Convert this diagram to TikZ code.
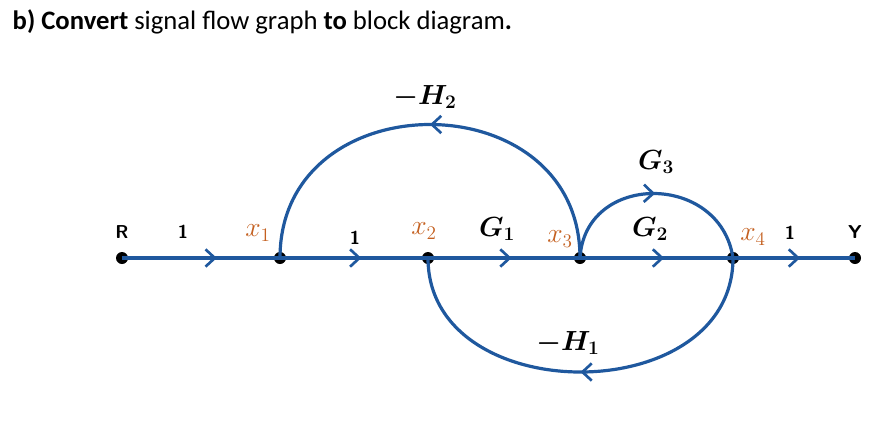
\documentclass[tikz,border=0pt]{standalone}
\usepackage{bm}
\usepackage{fontspec}
\setmainfont{Carlito}
\usetikzlibrary{decorations.markings,arrows.meta}
\definecolor{sfg}{RGB}{31,88,158}
\definecolor{lab}{RGB}{196,96,32}
\tikzset{
 br/.style={sfg,line width=2.4pt},
 mid/.style={postaction={decorate},decoration={markings,mark=at position #1 with {\arrow[sfg,line width=2pt]{Straight Barb[length=7pt,width=13pt]}}}},
 dot/.style={circle,fill=black,inner sep=0pt,minimum size=9pt},
 gl/.style={font=\fontsize{20}{20}\selectfont},
 xl/.style={lab,font=\fontsize{20}{20}\selectfont},
 nl/.style={font=\fontsize{14}{14}\selectfont\bfseries\sffamily}
}
\begin{document}
\begin{tikzpicture}[x=0.75pt,y=-0.75pt]
\useasboundingbox (0,0) rectangle (891,429);
\node[anchor=west,font=\fontsize{20}{20}\selectfont] (t) at (8,22) {\textbf{b) Convert} signal flow graph \textbf{to} block diagram\textbf{.}};
\node[dot] (R) at (122,258) {};
\node[dot] (x1) at (280,258) {};
\node[dot] (x2) at (428,258) {};
\node[dot] (x3) at (580,258) {};
\node[dot] (x4) at (733,258) {};
\node[dot] (Y) at (855,258) {};
\draw[br,mid=0.6] (R.center) -- (x1.center);
\draw[br,mid=0.55] (x1.center) -- (x2.center);
\draw[br,mid=0.55] (x2.center) -- (x3.center);
\draw[br,mid=0.55] (x3.center) -- (x4.center);
\draw[br,mid=0.55] (x4.center) -- (Y.center);
\draw[br,mid=0.5] (x3.center) .. controls (580,80) and (280,80) .. (x1.center);
\draw[br,mid=0.5] (x4.center) .. controls (733,410) and (428,410) .. (x2.center);
\draw[br,mid=0.5] (x3.center) .. controls (585,172) and (720,172) .. (x4.center);
\node[gl] (h2) at (425,97) {$\bm{-H_2}$};
\node[gl] (g3) at (656,162) {$\bm{G_3}$};
\node[gl] (g2) at (650,229) {$\bm{G_2}$};
\node[gl] (g1) at (497,229) {$\bm{G_1}$};
\node[gl] (h1) at (568,343) {$\bm{-H_1}$};
\node[xl] (l1) at (258,233) {$x_1$};
\node[xl] (l2) at (424,231) {$x_2$};
\node[xl] (l3) at (560,239) {$x_3$};
\node[xl] (l4) at (753,237) {$x_4$};
\node[nl] (R1) at (122,232) {R};
\node[nl] (Y1) at (855,232) {Y};
\node[nl] (o1) at (183,232) {1};
\node[nl] (o2) at (355,238) {1};
\node[nl] (o3) at (790,233) {1};
\end{tikzpicture}
\end{document}
